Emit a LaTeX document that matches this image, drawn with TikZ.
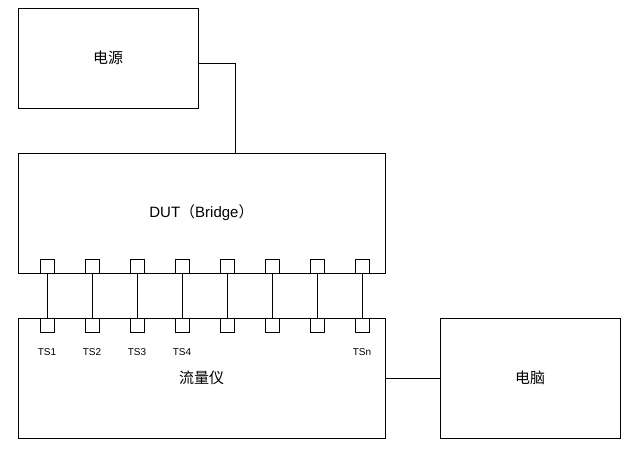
\documentclass[tikz,border=0pt]{standalone}
\usepackage{fontspec}
\setmainfont{Liberation Sans}
\newfontfamily\cjk{Noto Sans CJK SC}
\begin{document}
\begin{tikzpicture}[x=1pt,y=-1pt,
  box/.style={draw,thick,minimum width=0pt,inner sep=0pt,font=\fontsize{15}{18}\selectfont},
  port/.style={draw,thick,fill=white,minimum size=14pt,inner sep=0pt},
  lab/.style={font=\fontsize{10}{12}\selectfont},
  wire/.style={thick}]
\useasboundingbox (0,0) rectangle (643,456);
\node[box,minimum width=180pt,minimum height=100pt] (psu) at (108,58) {\cjk 电源};
\node[box,minimum width=367pt,minimum height=120pt] (dut) at (201.5,213) {DUT{\cjk （}Bridge{\cjk ）}};
\node[box,minimum width=367pt,minimum height=120pt] (fm) at (201.5,378) {};
\node[font=\cjk\fontsize{15}{18}\selectfont] (fmt) at (201.5,378) {流量仪};
\node[box,minimum width=180pt,minimum height=120pt] (pc) at (530,378) {\cjk 电脑};
\coordinate (bend) at (235,63);
\draw[wire] (psu.east |- bend) -- (bend) -- (bend |- dut.north);
\draw[wire] (fm.east) -- (pc.west);
\foreach \i/\x in {1/47,2/92,3/137,4/182,5/227,6/272,7/317,8/362}{
  \node[port] (t\i) at (\x,266) {};
  \node[port] (b\i) at (\x,325) {};
  \draw[wire] (t\i.south) -- (b\i.north);
}
\foreach \i/\t in {1/TS1,2/TS2,3/TS3,4/TS4,8/TSn}{
  \node[lab] (l\i) at (b\i.south |- 0,352) {\t};
}
\end{tikzpicture}
\end{document}
